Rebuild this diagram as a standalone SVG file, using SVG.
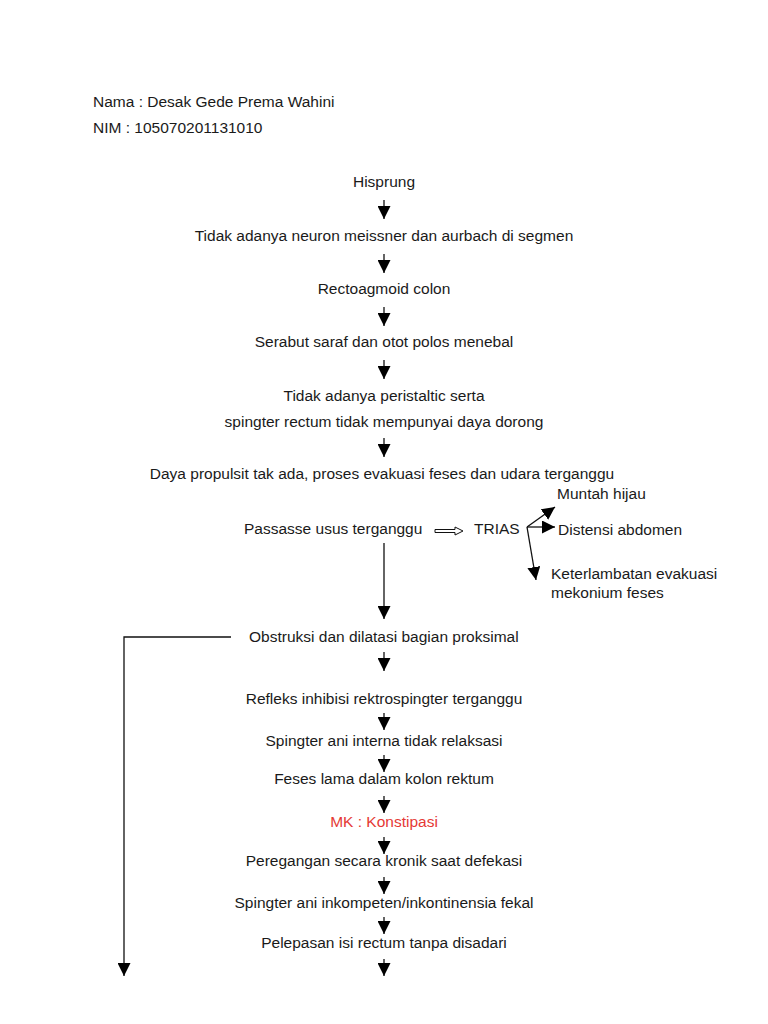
<svg xmlns="http://www.w3.org/2000/svg" width="768" height="1024" viewBox="0 0 768 1024">
<style>
text{font-family:"Liberation Sans",Arial,sans-serif;font-size:15.5px;fill:#1a1a1a}
.c{text-anchor:middle}
.red{fill:#e53935}
.ln{stroke:#111;stroke-width:1.3;fill:none}
</style>
<defs>
<marker id="ah" viewBox="0 0 12 12" refX="12" refY="6" markerWidth="13" markerHeight="13" markerUnits="userSpaceOnUse" orient="auto">
<path d="M0,0 L12,6 L0,12 z" fill="#000"/>
</marker>
</defs>
<rect width="768" height="1024" fill="#fff"/>
<g id="header">
<text x="93" y="107">Nama : Desak Gede Prema Wahini</text>
<text x="93" y="133">NIM : 105070201131010</text>
</g>
<g id="n1"><text class="c" x="384" y="187">Hisprung</text></g>
<g id="n2"><text class="c" x="384" y="241">Tidak adanya neuron meissner dan aurbach di segmen</text></g>
<g id="n3"><text class="c" x="384" y="294">Rectoagmoid colon</text></g>
<g id="n4"><text class="c" x="384" y="347">Serabut saraf dan otot polos menebal</text></g>
<g id="n5"><text class="c" x="384" y="401">Tidak adanya peristaltic serta</text><text class="c" x="384" y="427">spingter rectum tidak mempunyai daya dorong</text></g>
<g id="n6"><text class="c" x="382" y="479">Daya propulsit tak ada, proses evakuasi feses dan udara terganggu</text></g>
<g id="n7"><text x="244" y="534">Passasse usus terganggu</text></g>
<g id="trias"><text x="474" y="534">TRIAS</text></g>
<g id="t1"><text x="557" y="499">Muntah hijau</text></g>
<g id="t2"><text x="558" y="535">Distensi abdomen</text></g>
<g id="t3"><text x="551" y="579">Keterlambatan evakuasi</text><text x="551" y="598">mekonium feses</text></g>
<g id="n8"><text x="249" y="642">Obstruksi dan dilatasi bagian proksimal</text></g>
<g id="n9"><text class="c" x="384" y="704">Refleks inhibisi rektrospingter terganggu</text></g>
<g id="n10"><text class="c" x="384" y="746">Spingter ani interna tidak relaksasi</text></g>
<g id="n11"><text class="c" x="384" y="784">Feses lama dalam kolon rektum</text></g>
<g id="n12"><text class="c red" x="384" y="827">MK : Konstipasi</text></g>
<g id="n13"><text class="c" x="384" y="866">Peregangan secara kronik saat defekasi</text></g>
<g id="n14"><text class="c" x="384" y="908">Spingter ani inkompeten/inkontinensia fekal</text></g>
<g id="n15"><text class="c" x="384" y="948">Pelepasan isi rectum tanpa disadari</text></g>
<g id="connectors">
<line class="ln" x1="384" y1="200" x2="384" y2="219" marker-end="url(#ah)"/>
<line class="ln" x1="384" y1="254" x2="384" y2="273" marker-end="url(#ah)"/>
<line class="ln" x1="384" y1="307" x2="384" y2="326" marker-end="url(#ah)"/>
<line class="ln" x1="384" y1="360" x2="384" y2="379" marker-end="url(#ah)"/>
<line class="ln" x1="384" y1="438" x2="384" y2="457" marker-end="url(#ah)"/>
<line class="ln" x1="384" y1="543" x2="384" y2="619" marker-end="url(#ah)"/>
<path d="M435,529.5 H455 V527 L463,531 L455,535 V532.5 H435 Z" fill="#fff" stroke="#111" stroke-width="1"/>
<line class="ln" x1="527" y1="527" x2="555" y2="507" marker-end="url(#ah)"/>
<line class="ln" x1="527" y1="527" x2="555" y2="527" marker-end="url(#ah)"/>
<line class="ln" x1="527" y1="527" x2="536" y2="580" marker-end="url(#ah)"/>
<line class="ln" x1="384" y1="652" x2="384" y2="671" marker-end="url(#ah)"/>
<line class="ln" x1="384" y1="713" x2="384" y2="730" marker-end="url(#ah)"/>
<line class="ln" x1="384" y1="755" x2="384" y2="772" marker-end="url(#ah)"/>
<line class="ln" x1="384" y1="796" x2="384" y2="813" marker-end="url(#ah)"/>
<line class="ln" x1="384" y1="837" x2="384" y2="854" marker-end="url(#ah)"/>
<line class="ln" x1="384" y1="877" x2="384" y2="894" marker-end="url(#ah)"/>
<line class="ln" x1="384" y1="917" x2="384" y2="934" marker-end="url(#ah)"/>
<line class="ln" x1="384" y1="959" x2="384" y2="976" marker-end="url(#ah)"/>
<path class="ln" d="M231,637 H124 V976" marker-end="url(#ah)" stroke="#444"/>
</g>
</svg>
